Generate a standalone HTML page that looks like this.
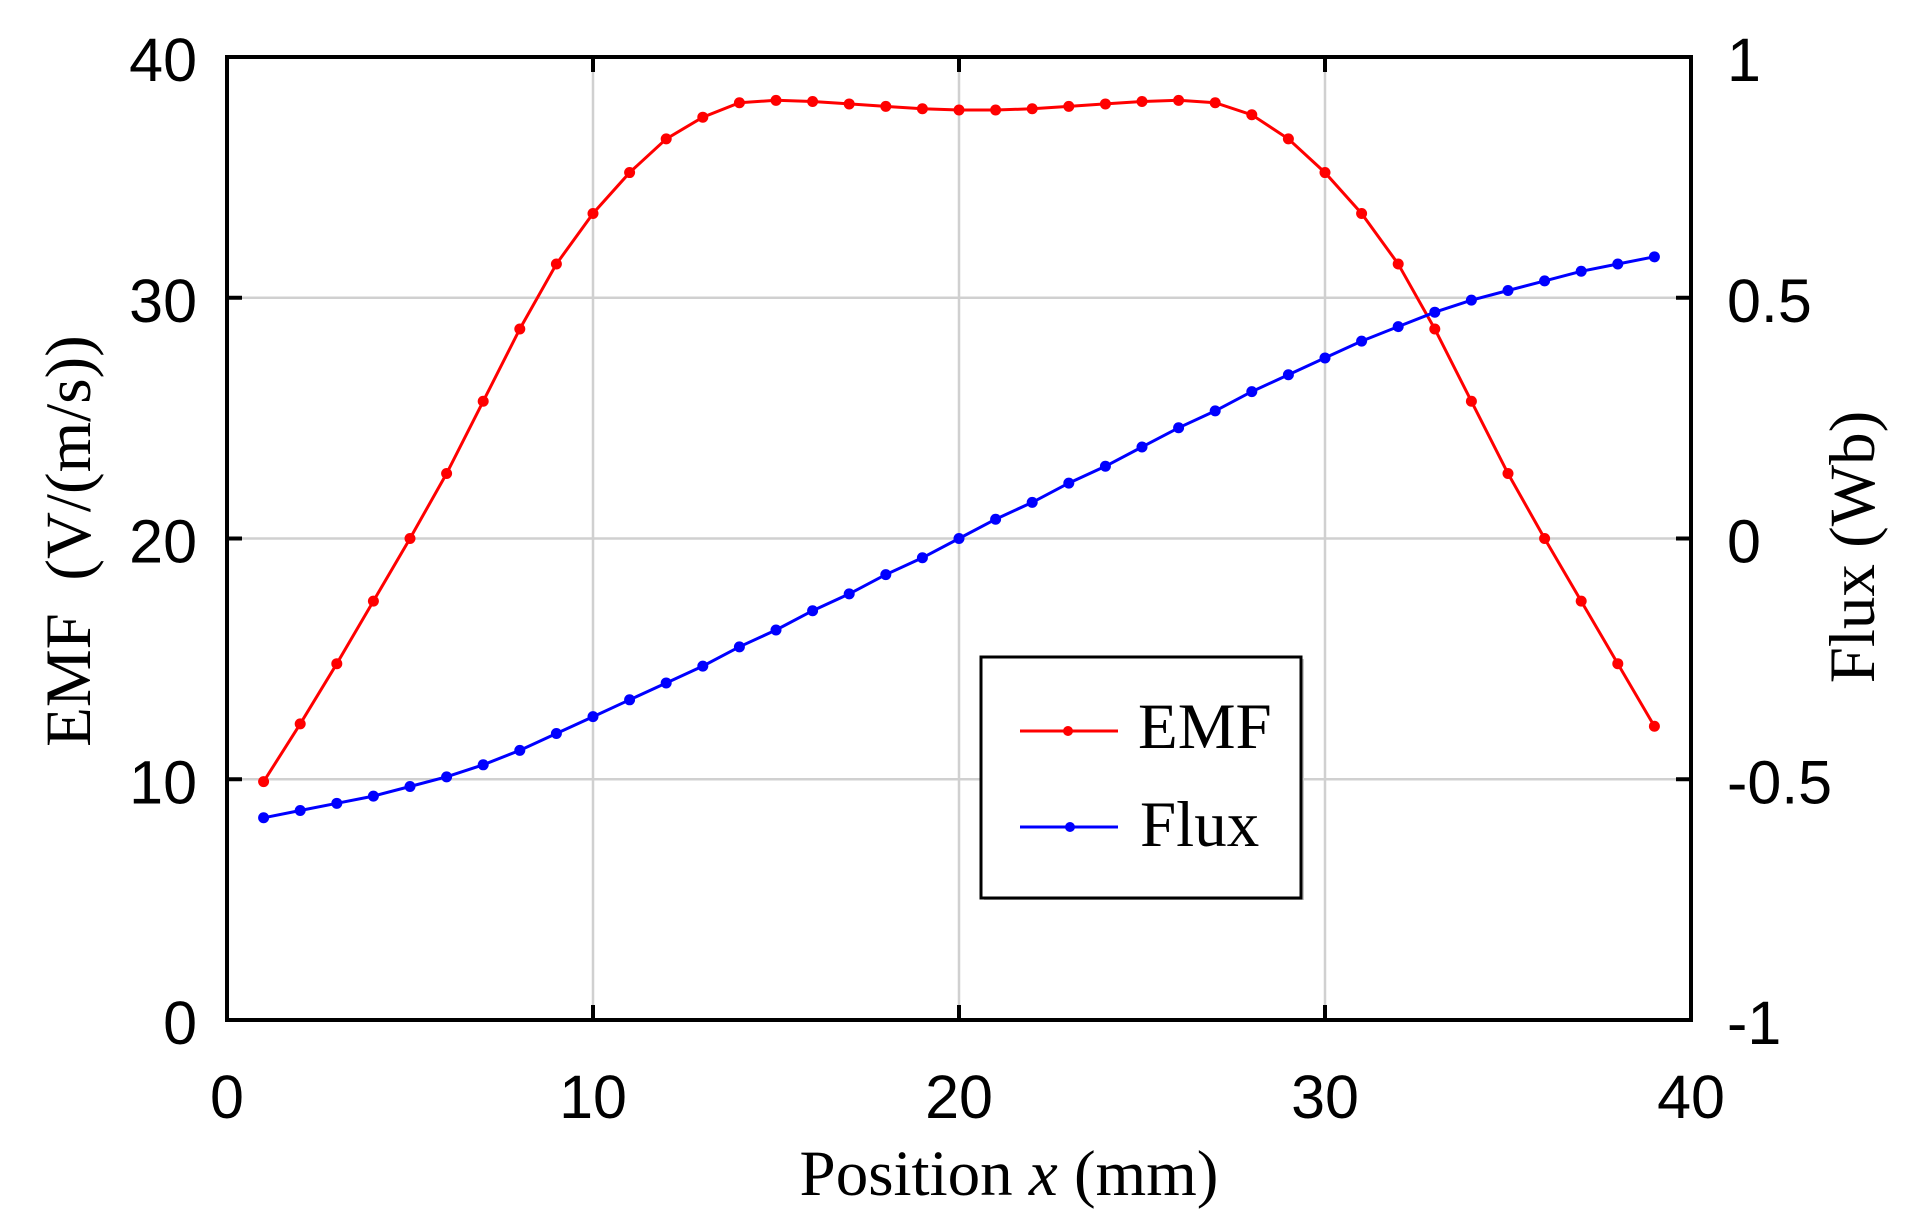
<!DOCTYPE html>
<html><head><meta charset="utf-8"><style>
html,body{margin:0;padding:0;background:#fff;}
svg{display:block;}
.t{font-family:"Liberation Sans",sans-serif;font-size:61px;fill:#000;}
.s{font-family:"Liberation Serif",serif;font-size:65px;fill:#000;}
</style></head><body>
<svg id="c" width="1908" height="1219" viewBox="0 0 1908 1219" xmlns="http://www.w3.org/2000/svg">
<rect width="1908" height="1219" fill="#fff"/>
<g id="grid" stroke="#d0d0d0" stroke-width="2.5"></g>
<g id="ticks" stroke="#000" stroke-width="4"></g>
<polyline id="emf" fill="none" stroke="#ff0000" stroke-width="3"/>
<polyline id="flux" fill="none" stroke="#0000ff" stroke-width="3"/>
<g id="dots"></g>
<rect x="227" y="57" width="1464" height="963" fill="none" stroke="#000" stroke-width="4"/>
<g id="labels"></g>
<text class="s" x="1009" y="1195" text-anchor="middle">Position <tspan font-style="italic">x</tspan> (mm)</text>
<text class="s" transform="translate(90,541) rotate(-90)" text-anchor="middle" xml:space="preserve">EMF  (V/(m/s))</text>
<text class="s" transform="translate(1874,547) rotate(-90)" text-anchor="middle">Flux (Wb)</text>
<rect x="984" y="659" width="320" height="241" fill="#c8c8c8"/>
<rect x="981" y="657" width="320" height="241" fill="#fff" stroke="#000" stroke-width="3"/>
<line x1="1020" y1="731" x2="1118" y2="731" stroke="#ff0000" stroke-width="3"/>
<circle cx="1068" cy="731" r="5" fill="#ff0000"/>
<line x1="1020" y1="827" x2="1118" y2="827" stroke="#0000ff" stroke-width="3"/>
<circle cx="1070" cy="827" r="5" fill="#0000ff"/>
<text class="s" x="1138" y="748">EMF</text>
<text class="s" x="1140" y="846">Flux</text>
</svg>
<script>
var NS="http://www.w3.org/2000/svg";
function X(v){return 227+v*36.6;}
function Y(v){return 1020-v*24.075;}
function el(p,t,a,txt){var e=document.createElementNS(NS,t);for(var k in a)e.setAttribute(k,a[k]);if(txt!=null)e.textContent=txt;document.getElementById(p).appendChild(e);}
for(var i=1;i<4;i++){el("grid","line",{x1:X(i*10),y1:57,x2:X(i*10),y2:1020});el("grid","line",{x1:227,y1:Y(i*10),x2:1691,y2:Y(i*10)});}
for(var i=0;i<=4;i++){
 el("ticks","line",{x1:X(i*10),y1:1020,x2:X(i*10),y2:1005});
 el("ticks","line",{x1:X(i*10),y1:57,x2:X(i*10),y2:72});
 el("ticks","line",{x1:227,y1:Y(i*10),x2:242,y2:Y(i*10)});
 el("ticks","line",{x1:1691,y1:Y(i*10),x2:1676,y2:Y(i*10)});
 el("labels","text",{"class":"t",x:X(i*10),y:1118,"text-anchor":"middle"},String(i*10));
 el("labels","text",{"class":"t",x:197,y:Y(i*10)+24,"text-anchor":"end"},String(i*10));
 el("labels","text",{"class":"t",x:1727,y:Y(i*10)+24},["-1","-0.5","0","0.5","1"][i]);
}
var E=[9.9,12.3,14.8,17.4,20,22.7,25.7,28.7,31.4,33.5,35.2,36.6,37.5,38.1,38.2,38.15,38.05,37.95,37.85,37.8,37.8,37.85,37.95,38.05,38.15,38.2,38.1,37.6,36.6,35.2,33.5,31.4,28.7,25.7,22.7,20,17.4,14.8,12.2];
var F=[8.4,8.7,9.0,9.3,9.7,10.1,10.6,11.2,11.9,12.6,13.3,14.0,14.7,15.5,16.2,17.0,17.7,18.5,19.2,20.0,20.8,21.5,22.3,23.0,23.8,24.6,25.3,26.1,26.8,27.5,28.2,28.8,29.4,29.9,30.3,30.7,31.1,31.4,31.7];
function draw(d,id,c){var p=[];for(var i=0;i<d.length;i++){var x=X(i+1),y=Y(d[i]);p.push(x.toFixed(1)+","+y.toFixed(1));el("dots","circle",{cx:x,cy:y,r:5.5,fill:c});}document.getElementById(id).setAttribute("points",p.join(" "));}
draw(E,"emf","#ff0000");draw(F,"flux","#0000ff");
</script>
</body></html>
